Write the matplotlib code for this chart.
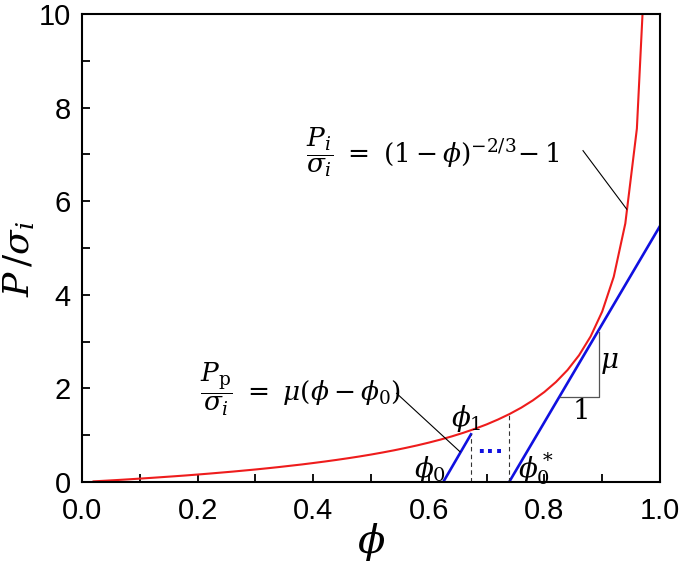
import numpy as np
import matplotlib
matplotlib.use("Agg")
import matplotlib.pyplot as plt

plt.rcParams['font.family'] = ['Liberation Sans', 'DejaVu Sans']
plt.rcParams['mathtext.fontset'] = 'dejavuserif'

phi = [0.02, 0.04, 0.06, 0.08, 0.10, 0.12, 0.14, 0.16, 0.18, 0.20,
       0.22, 0.24, 0.26, 0.28, 0.30, 0.32, 0.34, 0.36, 0.38, 0.40,
       0.42, 0.44, 0.46, 0.48, 0.50, 0.52, 0.54, 0.56, 0.58, 0.60,
       0.62, 0.64, 0.66, 0.68, 0.70, 0.72, 0.74, 0.76, 0.78, 0.80,
       0.82, 0.84, 0.86, 0.88, 0.90, 0.92, 0.94, 0.96, 0.98]
p_i = [0.014, 0.028, 0.042, 0.057, 0.073, 0.089, 0.106, 0.123, 0.141, 0.160,
       0.180, 0.201, 0.222, 0.245, 0.268, 0.293, 0.319, 0.347, 0.375, 0.406,
       0.438, 0.472, 0.508, 0.546, 0.587, 0.631, 0.678, 0.729, 0.783, 0.842,
       0.906, 0.976, 1.053, 1.138, 1.231, 1.337, 1.455, 1.589, 1.744, 1.924,
       2.137, 2.393, 2.709, 3.111, 3.642, 4.386, 5.525, 7.550, 12.57]

# blue lines P_p/sigma_i
blue1_x = [0.625, 0.673]
blue1_y = [0.0, 1.02]
blue2_x = [0.739, 1.0]
blue2_y = [0.0, 5.47]

# dashed guides (phi, top value)
dash_x = [0.673, 0.739]
dash_top = [1.02, 1.45]

# slope triangle
tri_x = [0.827, 0.894, 0.894]
tri_y = [1.82, 1.82, 3.21]

fig = plt.figure(figsize=(6.85, 5.62), dpi=100)
ax = fig.add_axes([0.1197, 0.1423, 0.8438, 0.8328])

ax.plot(phi, p_i, color='#ee1c1c', lw=1.5)
ax.plot(blue1_x, blue1_y, color='#1010e0', lw=1.9)
ax.plot(blue2_x, blue2_y, color='#1010e0', lw=1.9)
for xd, yt in zip(dash_x, dash_top):
    ax.plot([xd, xd], [0, yt], color='#333333', lw=0.8, ls=(0, (4, 3)))
ax.plot(tri_x, tri_y, color='#555555', lw=0.9)

# leader lines
ax.plot([0.8668, 0.9424], [7.08, 5.83], color='black', lw=0.8)
ax.plot([0.5443, 0.654], [1.895, 0.647], color='black', lw=0.8)

fs = 20
ax.text(0.387, 7.05, r'$\dfrac{P_i}{\sigma_i}\ =\ (1-\phi)^{-2/3}\!-1$',
        fontsize=19, ha='left', va='center')
ax.text(0.204, 1.97, r'$\dfrac{P_\mathrm{p}}{\sigma_i}\ =\ \mu(\phi-\phi_0)$',
        fontsize=19, ha='left', va='center')
ax.text(0.664, 1.36, r'$\phi_1$', fontsize=fs, ha='center', va='center')
ax.text(0.602, 0.26, r'$\phi_0$', fontsize=fs, ha='center', va='center')
ax.text(0.785, 0.29, r'$\phi_0^*$', fontsize=fs, ha='center', va='center')
ax.text(0.8616, 1.50, r'$1$', fontsize=fs, ha='center', va='center')
ax.text(0.912, 2.54, r'$\mu$', fontsize=fs, ha='center', va='center')
ax.text(0.707, 0.61, '···', fontsize=20, color='#1010e0', fontweight='bold',
        ha='center', va='center')

ax.set_xlim(0, 1)
ax.set_ylim(0, 10)
ax.set_xticks(np.arange(0, 1.01, 0.2))
ax.set_xticks(np.arange(0.1, 1.0, 0.2), minor=True)
ax.set_yticks(np.arange(0, 11, 2))
ax.set_yticks(np.arange(1, 10, 2), minor=True)
ax.set_xticklabels(['0.0', '0.2', '0.4', '0.6', '0.8', '1.0'])
ax.tick_params(which='both', direction='in', length=6, width=1.3,
               labelsize=21, top=False, right=False)
ax.tick_params(axis='x', which='major', pad=11)
ax.tick_params(axis='y', which='major', pad=8)
for s in ax.spines.values():
    s.set_linewidth(1.5)

ax.set_xlabel(r'$\phi$', fontsize=29, va='center')
ax.xaxis.set_label_coords(0.5, -0.128)
ax.set_ylabel(r'$P\,/\sigma_i$', fontsize=26, va='center')
ax.yaxis.set_label_coords(-0.107, 0.476)

fig.savefig('out.png', dpi=100)
